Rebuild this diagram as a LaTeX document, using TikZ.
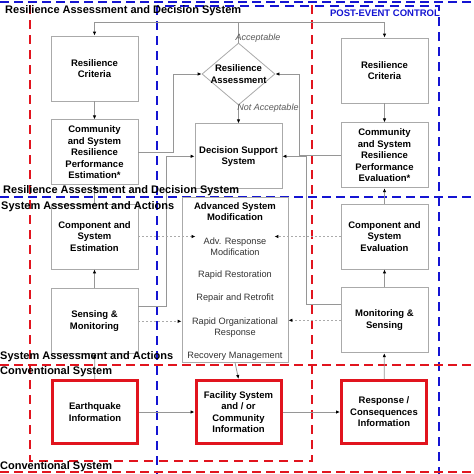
\documentclass[tikz,border=0pt]{standalone}
\usepackage{fontspec}
\setmainfont{Liberation Sans}
\usetikzlibrary{shapes.geometric, arrows.meta, positioning}
\definecolor{linegray}{RGB}{150,150,150}
\definecolor{boxgray}{RGB}{170,170,170}
\definecolor{sysred}{RGB}{225,20,30}
\definecolor{sysblue}{RGB}{20,20,210}

\begin{document}
\begin{tikzpicture}[
    x=1pt, y=-1pt,
    every node/.style={font=\fontsize{9.5}{11.5}\selectfont\bfseries, align=center},
    box/.style={rectangle, draw=boxgray, line width=0.8pt, minimum width=87pt, minimum height=65pt, inner sep=1pt},
    redbox/.style={rectangle, draw=sysred, line width=3pt, minimum width=85pt, minimum height=63pt, inner sep=1pt},
    decision/.style={diamond, draw=boxgray, line width=0.8pt, minimum width=73pt, minimum height=62pt, inner sep=0pt},
    item/.style={font=\fontsize{9.2}{11}\selectfont, text=black!80},
    arrow/.style={draw=linegray, line width=0.8pt, -{Latex[length=4pt, width=3.5pt, black]}},
    dasharrow/.style={arrow, draw=boxgray, dash pattern=on 2pt off 2pt},
    bandline/.style={line width=2.6pt, dash pattern=on 9pt off 5pt},
    frame/.style={line width=2.2pt, dash pattern=on 9pt off 6pt},
    bandlabel/.style={font=\fontsize{11}{13}\selectfont\bfseries, anchor=west, inner sep=0pt},
    choice/.style={font=\fontsize{9}{11}\selectfont\itshape, text=black!65}
  ]
    \clip (0,0) rectangle (474,474);
    \fill[white] (0,0) rectangle (474,474);
    % Frames and bands
    \draw[frame, sysred] (30,-10) rectangle (312,461);
    \draw[frame, sysblue] (157,6) rectangle (439,490);
    \draw[bandline, sysblue] (0,2) -- (474,2);
    \draw[bandline, sysblue] (0,197) -- (474,197);
    \draw[bandline, sysred] (0,365) -- (474,365);
    \draw[bandline, sysred] (0,472) -- (474,472);
    % Nodes (left column)
    \node[box] (critL) at (94.5,68.5) {Resilience\\Criteria};
    \node[box, below=18pt of critL] (perfL) {Community\\and System\\Resilience\\Performance\\Estimation*};
    \node[box] (compL) at (94.5,236.5) {Component and\\System\\Estimation};
    \node[box, below=19pt of compL] (sensL) {Sensing \&\\Monitoring};
    % Nodes (right column)
    \node[box] (critR) at (384.5,70.5) {Resilience\\Criteria};
    \node[box, below=19pt of critR] (perfR) {Community\\and System\\Resilience\\Performance\\Evaluation*};
    \node[box] (compR) at (384.5,236.5) {Component and\\System\\Evaluation};
    \node[box, below=18pt of compR] (monR) {Monitoring \&\\Sensing};
    % Nodes (middle)
    \node[decision] (assess) at (238.5,74) {};
    \node (assessT) at (assess) {Resilience\\Assessment};
    \node[box, below=18pt of assess] (dss) {Decision Support\\System};
    \node[box, minimum width=106pt, minimum height=165pt] (adv) at (235,279.5) {};
    \node (advT) at (235,211.5) {Advanced System\\Modification};
    \node[item, inner xsep=8pt] (advResp) at (235,246.5) {Adv. Response\\Modification};
    \node[item] (rapidRest) at (235,275) {Rapid Restoration};
    \node[item] (repair) at (235,298) {Repair and Retrofit};
    \node[item] (rapidOrg) at (235,327.5) {Rapid Organizational\\Response};
    \node[item] (recov) at (235,356) {Recovery Management};
    % Nodes (conventional system)
    \node[redbox] (eq) at (95,412) {Earthquake\\Information};
    \node[redbox] (fac) at (238.5,412) {Facility System\\and / or\\Community\\Information};
    \node[redbox] (resp) at (384,412) {Response /\\Consequences\\Information};
    % Arrows (decision loop)
    \coordinate (accept) at (238.5,22);
    \draw[arrow] (assess.north) -- (accept) -| (critL.north);
    \draw[arrow] (accept) -| (critR.north);
    \draw[arrow] (critL) -- (perfL);
    \draw[arrow] (critR) -- (perfR);
    \draw[arrow] (perfL.east) -- ++(35,0) |- (assess.west);
    \draw[arrow] (perfR.west) -- ++(-41,0) |- (assess.east);
    \draw[arrow] (assess.south) -- (dss.north);
    \draw[arrow] ([yshift=15pt]sensL.east) -- ++(28,0) |- (dss.west);
    \draw[arrow] ([yshift=16pt]monR.west) -- ++(-34,0) |- (dss.east);
    \node[choice] (acc) at (258,38) {Acceptable};
    \node[choice] (notacc) at (268,108) {Not Acceptable};
    % Arrows (assessment columns)
    \draw[arrow] (sensL) -- (compL);
    \draw[arrow] (compL) -- (perfL);
    \draw[arrow] (eq) -- (sensL);
    \draw[arrow] (resp) -- (monR);
    \draw[arrow] (monR) -- (compR);
    \draw[arrow] (compR) -- (perfR);
    % Actions
    \draw[dasharrow] (compL.east) -- (compL.east -| advResp.west);
    \draw[dasharrow] (compR.west) -- (compR.west -| advResp.east);
    \draw[dasharrow] (sensL.east) -- (sensL.east -| adv.west);
    \draw[dasharrow] (monR.west) -- (monR.west -| adv.east);
    % Main flow
    \draw[arrow] (adv.south) -- (fac.north);
    \draw[arrow] (eq) -- (fac);
    \draw[arrow] (fac) -- (resp);
    % Band labels
    \node[bandlabel] (ratop) at (5,11) {Resilience Assessment and Decision System};
    \node[bandlabel] (rabot) at (3,191) {Resilience Assessment and Decision System};
    \node[bandlabel] (satop) at (1,207) {System Assessment and Actions};
    \node[bandlabel] (sabot) at (0,357) {System Assessment and Actions};
    \node[bandlabel] (cstop) at (0,372) {Conventional System};
    \node[bandlabel] (csbot) at (0,467) {Conventional System};
    \node[text=sysblue, font=\fontsize{9.5}{11}\selectfont\bfseries] (post) at (385,13) {POST-EVENT CONTROL};
  \end{tikzpicture}
\end{document}
